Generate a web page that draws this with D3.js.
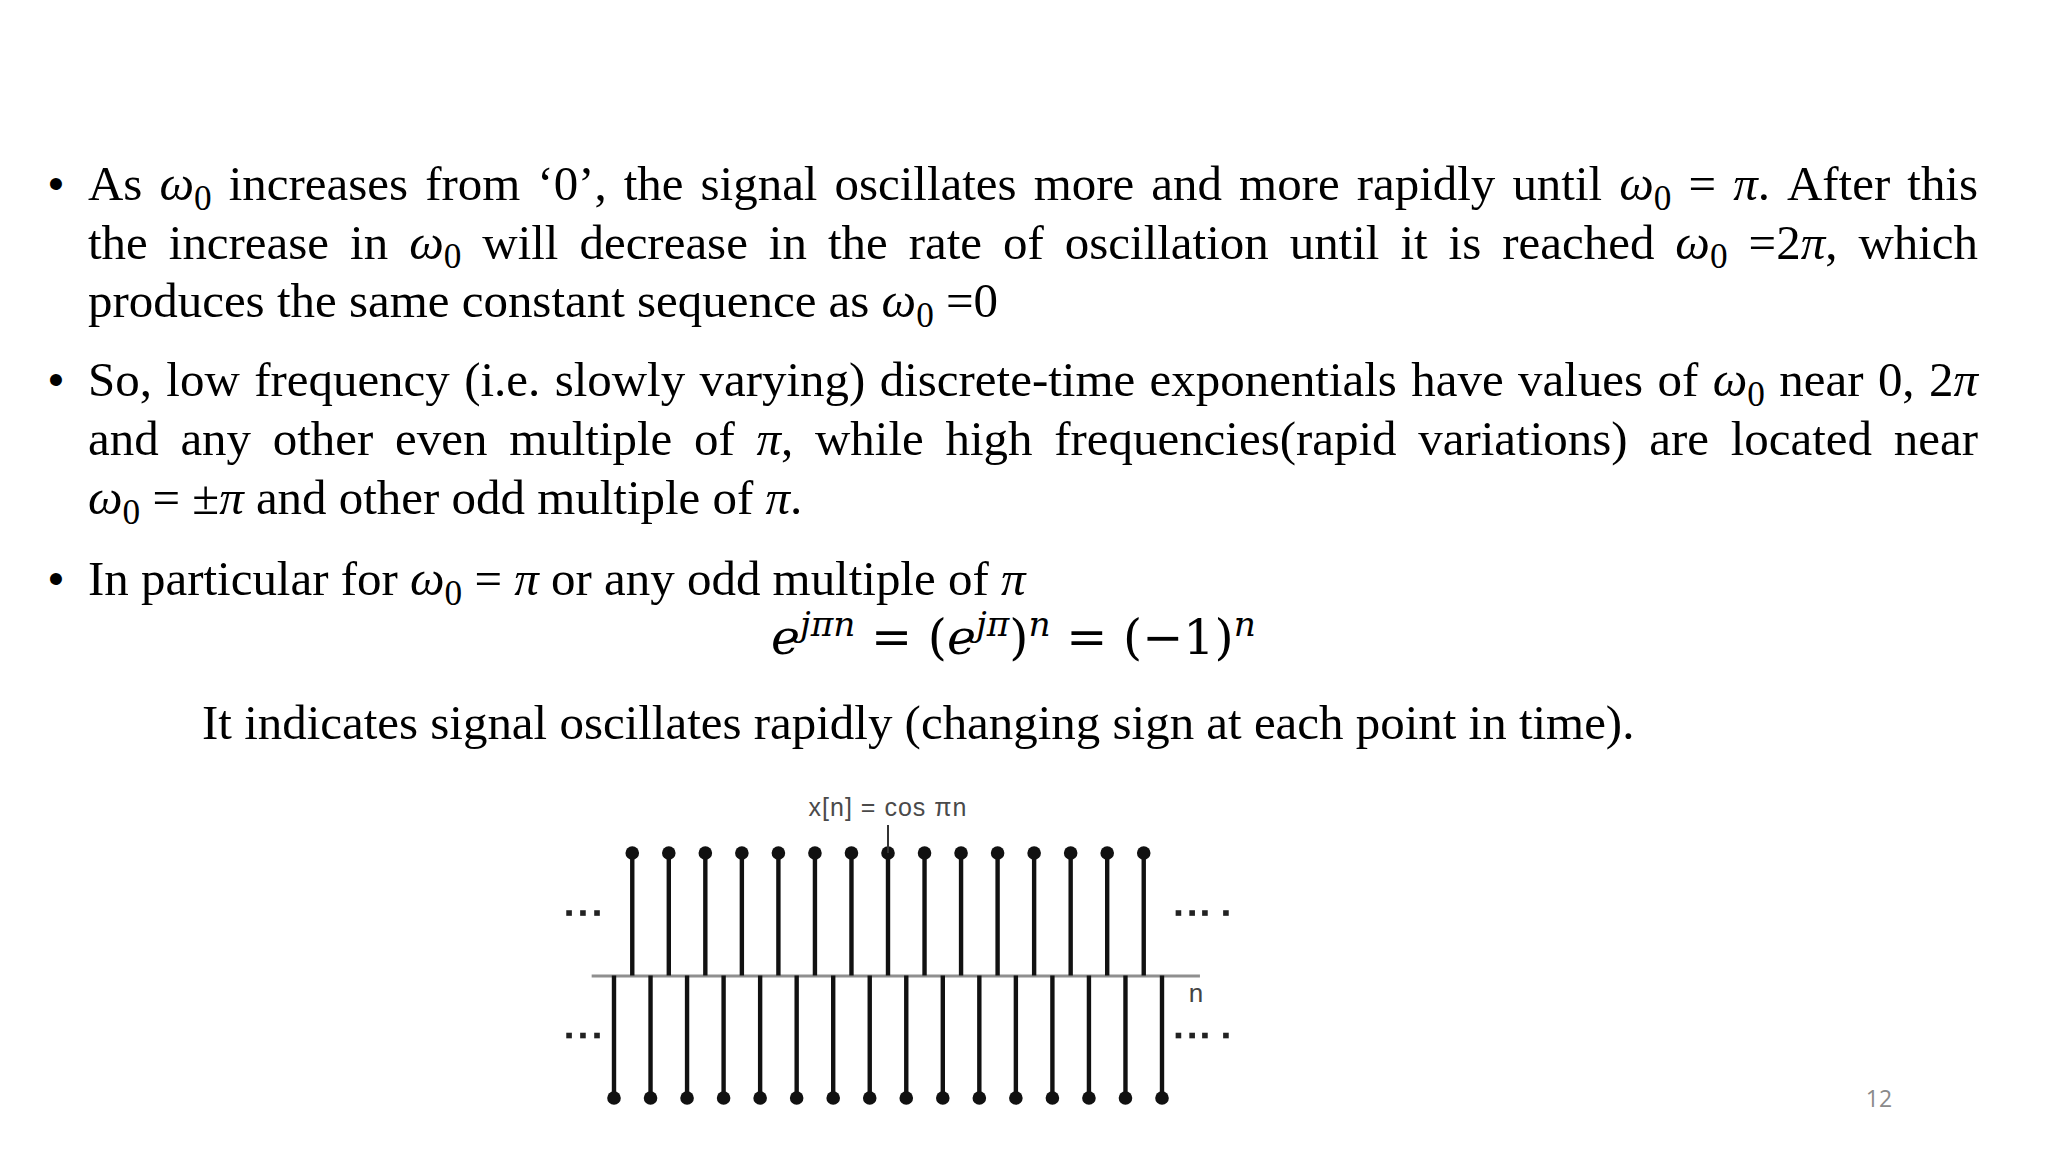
<!DOCTYPE html>
<html><head><meta charset="utf-8">
<script src="https://cdn.jsdelivr.net/npm/d3@7/dist/d3.min.js"></script>
<style>html,body{margin:0;padding:0;background:#fff;overflow:hidden}</style>
</head><body>
<svg id="c" width="2048" height="1152" xmlns="http://www.w3.org/2000/svg"></svg>
<script>
// ---- text content (segments: t = text, i = italic math, m = math upright, s = subscript, p = superscript)
const line1 = [["As ","t"],["ω","i"],["0","s"],[" increases from ‘0’, the signal oscillates more and more rapidly until ","t"],["ω","i"],["0","s"],[" = ","m"],["π","i"],[". After this","t"]];
const line2 = [["the increase in ","t"],["ω","i"],["0","s"],[" will decrease in the rate of oscillation until it is reached ","t"],["ω","i"],["0","s"],[" =2","t"],["π","i"],[", which","t"]];
const line3 = [["produces the same constant sequence as ","t"],["ω","i"],["0","s"],[" =0","t"]];
const line4 = [["So, low frequency (i.e. slowly varying) discrete-time exponentials have values of ","t"],["ω","i"],["0","s"],[" near 0, 2","t"],["π","i"]];
const line5 = [["and any other even multiple of ","t"],["π","i"],[", while high frequencies(rapid variations) are located near","t"]];
const line6 = [["ω","i"],["0","s"],[" = ±","m"],["π","i"],[" and other odd multiple of ","t"],["π","i"],[".","t"]];
const line7 = [["In particular for ","t"],["ω","i"],["0","s"],[" = ","m"],["π","i"],[" or any odd multiple of ","t"],["π","i"]];
const equation = [["e","i"],["jπn","p"],[" = (","m"],["e","i"],["jπ","p"],[")","m"],["n","p"],[" = (−1)","m"],["n","p"]];
const line9 = [["It indicates signal oscillates rapidly (changing sign at each point in time).","t"]];
const pageNumber = "12";

// ---- stem plot data: x[n] = cos πn
const nValues = [-15,-14,-13,-12,-11,-10,-9,-8,-7,-6,-5,-4,-3,-2,-1,0,1,2,3,4,5,6,7,8,9,10,11,12,13,14,15];
const xValues = [-1,1,-1,1,-1,1,-1,1,-1,1,-1,1,-1,1,-1,1,-1,1,-1,1,-1,1,-1,1,-1,1,-1,1,-1,1,-1];
const plotLabel = "x[n] = cos πn";
const axisLabel = "n";
const axisExtent = [-16.25, 17.05];
const ellipsisLeftN = [-17.46, -16.7, -15.93];
const ellipsisRightN = [15.9, 16.65, 17.35, 18.5];
const ellipsisLevels = [0.51, -0.49];

const svg = d3.select("#c");
const SERIF = "'Liberation Serif','Times New Roman',serif";
const MATH = "'DejaVu Serif','Liberation Serif',serif";

function drawLine(segs, x, y, fs, width, family) {
  const t = svg.append("text").attr("x", x).attr("y", y)
    .attr("font-size", fs).attr("font-family", family || SERIF).attr("fill", "#000")
    .style("white-space", "pre");
  let cur = 0;
  segs.forEach(([s, k]) => {
    const ts = t.append("tspan").text(s);
    let target = 0;
    if (k === "i") ts.attr("font-style", "italic");
    if (k === "s") { ts.attr("font-size", fs * 0.72); target = fs * 0.2; }
    if (k === "p") { ts.attr("font-size", fs * 0.7).attr("font-style", "italic"); target = -fs * 0.36; }
    if (target !== cur) { ts.attr("dy", target - cur); cur = target; }
  });
  if (width) {
    const w = t.node().getComputedTextLength();
    const spaces = segs.map(d => d[0]).join("").split(" ").length - 1;
    if (spaces > 0) t.attr("word-spacing", (width - w) / spaces);
  }
  return t;
}

// fit font size to the measured width of the last text line
const probe = drawLine(line9, 0, -100, 40);
const fs = 40 * 1433 / probe.node().getComputedTextLength();
probe.remove();

const L = 88, R = 1978, W = R - L;
const bulletX = 56;
[200, 396, 595].forEach(y => {
  svg.append("text").attr("x", bulletX).attr("y", y - fs * 0.02).attr("text-anchor", "middle")
    .attr("font-family", "'Liberation Sans',Arial,sans-serif").attr("font-size", fs * 0.9).text("•");
});
drawLine(line1, L, 200, fs, W);
drawLine(line2, L, 258.5, fs, W);
drawLine(line3, L, 317, fs);
drawLine(line4, L, 396, fs, W);
drawLine(line5, L, 454.5, fs, W);
drawLine(line6, L, 514, fs);
drawLine(line7, L, 595, fs);

const eqProbe = drawLine(equation, 0, -100, 40, null, MATH);
const efs = 40 * 485 / eqProbe.node().getComputedTextLength();
eqProbe.remove();
drawLine(equation, 771, 654, efs, null, MATH);

drawLine(line9, 202, 739, fs);

svg.append("text").attr("x", 1879).attr("y", 1107).attr("text-anchor", "middle")
  .attr("font-family", "'Open Sans','Noto Sans',sans-serif").attr("font-size", 23)
  .attr("fill", "#8a8a8a").text(pageNumber);

// ---- stem plot
const x = d3.scaleLinear().domain([-15, 15]).range([614, 1162]);
const y = d3.scaleLinear().domain([-1, 1]).range([1098, 853]);

const axisScale = d3.scaleLinear().domain(axisExtent).range([x(axisExtent[0]), x(axisExtent[1])]);
const ax = svg.append("g").attr("transform", `translate(0,${y(0)})`)
  .call(d3.axisBottom(axisScale).tickValues([]).tickSizeOuter(0));
ax.select(".domain").attr("stroke", "#8f8f8f").attr("stroke-width", 3);

const plot = svg.append("g");
plot.selectAll("line.stem").data(nValues).join("line").attr("class", "stem")
  .attr("x1", d => x(d)).attr("x2", d => x(d))
  .attr("y1", y(0)).attr("y2", (d, i) => y(xValues[i]))
  .attr("stroke", "#111").attr("stroke-width", 4.4);
plot.selectAll("circle.dot").data(nValues).join("circle").attr("class", "dot")
  .attr("cx", d => x(d)).attr("cy", (d, i) => y(xValues[i])).attr("r", 6.8)
  .attr("fill", "#111");

// ellipsis dots
const ell = [];
ellipsisLevels.forEach(v => {
  ellipsisLeftN.forEach(n => ell.push([n, v]));
  ellipsisRightN.forEach(n => ell.push([n, v]));
});
plot.selectAll("rect.ell").data(ell).join("rect").attr("class", "ell")
  .attr("x", d => x(d[0]) - 2.8).attr("y", d => y(d[1]) - 2.8)
  .attr("width", 5.6).attr("height", 5.6).attr("fill", "#222");

// label + pointer
plot.append("text").attr("x", x(0)).attr("y", 816).attr("text-anchor", "middle")
  .attr("font-family", "'Liberation Sans',Arial,sans-serif").attr("font-size", 25)
  .attr("letter-spacing", 1).attr("fill", "#4a4a4a").text(plotLabel);
plot.append("line").attr("x1", x(0)).attr("x2", x(0))
  .attr("y1", 825).attr("y2", y(1)).attr("stroke", "#333").attr("stroke-width", 2);

plot.append("text").attr("x", 1196).attr("y", 1002).attr("text-anchor", "middle")
  .attr("font-family", "'Liberation Sans',Arial,sans-serif").attr("font-size", 26)
  .attr("fill", "#444").text(axisLabel);
</script>
</body></html>
